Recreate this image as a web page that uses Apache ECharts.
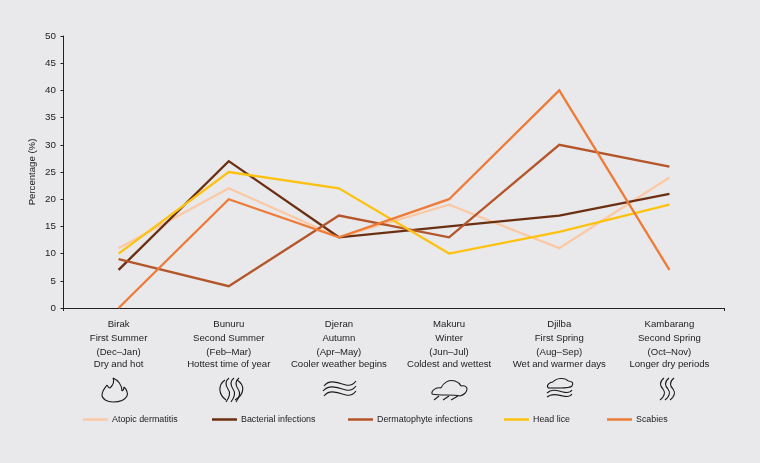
<!DOCTYPE html>
<html><head><meta charset="utf-8">
<style>html,body{margin:0;padding:0;background:#e9e9eb}#c{width:760px;height:463px}</style>
<script src="https://cdn.jsdelivr.net/npm/echarts@6/dist/echarts.min.js"></script>
</head><body><div id="c"></div>
<script>
const seasons = ['Birak','Bunuru','Djeran','Makuru','Djilba','Kambarang'];
const seasonEnglish = ['First Summer','Second Summer','Autumn','Winter','First Spring','Second Spring'];
const months = ['(Dec–Jan)','(Feb–Mar)','(Apr–May)','(Jun–Jul)','(Aug–Sep)','(Oct–Nov)'];
const weather = ['Dry and hot','Hottest time of year','Cooler weather begins','Coldest and wettest','Wet and warmer days','Longer dry periods'];
const atopic = [11,22,13,19,11,24];
const bacterial = [7,27,13,15,17,21];
const dermatophyte = [9,4,17,13,30,26];
const headLice = [10,25,22,10,14,19];
const scabies = [0,20,13,20,40,7];
const seriesNames = ['Atopic dermatitis','Bacterial infections','Dermatophyte infections','Head lice','Scabies'];
const seriesColors = ['#fbc9a5','#6b2f12','#b4552a','#fdc20f','#ee7b38'];
const legendLefts = [83,212,348,504,607];
const seriesValues = [atopic,bacterial,dermatophyte,headLice,scabies];
const categories = seasons.map((s,i)=>[s,seasonEnglish[i],months[i],weather[i]].join('\n'));
const FONT = '"Liberation Sans", Arial, sans-serif';
const TXT = '#1c1c20';

const icons = [
 // flame
 'M113 378C118 380 122 385 122 391C124 390 124 388 124 387C127 390 128 393 127 396C125 400 120 402 113 402C107 402 102 399 102 395C102 391 105 388 107 385C108 387 109 388 110 388C113 385 115 382 113 378Z',
 // heat
 'M225 380C218 385 218 394 226 400M237 380C245 385 245 394 235 400M229 378C224 382 226 386 228 389C231 393 229 398 226 402M234 378C229 382 231 386 233 389C236 393 234 398 231 402M239 378C234 382 236 386 238 389C241 393 239 398 236 402',
 // wind
 'M324 386C330 378 340 384 346 385C350 386 353 385 356 381M323 391C330 383 340 389 346 390C350 391 353 390 356 386M324 396C330 388 340 394 346 395C350 396 353 395 356 391',
 // rain cloud
 'M432 394C431 390 437 387 441 388C443 383 449 379 455 381C458 382 460 384 461 386C465 385 467 387 467 389C467 392 464 395 460 396C452 394 440 396 432 394ZM434 400L439 396M443 400L449 396M451 400L458 396',
 // cloud + wind
 'M548 388C546 385 550 382 553 382C556 378 565 377 568 381C572 381 574 383 572 386C570 388 566 388 560 388C556 388 551 388 548 388ZM547 393C552 388 558 391 563 392C567 393 570 393 572 390M547 397C552 393 558 395 563 396C567 397 570 397 572 394',
 // heat waves
 'M664 378C659 382 660 386 663 389C666 393 664 397 660 400M669 378C664 382 665 386 668 389C671 393 669 397 665 400M674 378C669 382 670 386 673 389C676 393 674 397 670 400'
];
function iconSegments(d){
  const out=[]; const re=/([MCLZ])([^MCLZ]*)/g; let m,cx=0,cy=0,sx=0,sy=0;
  const style={fill:null,stroke:'#1a1a1a',lineWidth:1.1};
  while((m=re.exec(d))){
    const n=m[2].trim().split(/\s+/).filter(Boolean).map(Number);
    if(m[1]==='M'){cx=sx=n[0];cy=sy=n[1];}
    else if(m[1]==='L'){out.push({type:'line',silent:true,shape:{x1:cx,y1:cy,x2:n[0],y2:n[1]},style});cx=n[0];cy=n[1];}
    else if(m[1]==='C'){
      for(let i=0;i<n.length;i+=6){
        out.push({type:'bezierCurve',silent:true,shape:{x1:cx,y1:cy,cpx1:n[i],cpy1:n[i+1],cpx2:n[i+2],cpy2:n[i+3],x2:n[i+4],y2:n[i+5]},style});
        cx=n[i+4];cy=n[i+5];
      }
    } else if(m[1]==='Z'){ if(cx!==sx||cy!==sy)out.push({type:'line',silent:true,shape:{x1:cx,y1:cy,x2:sx,y2:sy},style});cx=sx;cy=sy;}
  }
  return out;
}
const iconGraphics = icons.flatMap(iconSegments);

const chart = echarts.init(document.getElementById('c'),null,{renderer:'canvas'});
chart.setOption({
 backgroundColor:'#e9e9eb',
 animation:false,
 textStyle:{fontFamily:FONT},
 grid:{left:63.5,right:35.5,top:36,bottom:155,containLabel:false},
 legend: seriesNames.map((n,i)=>({
   data:[{name:n,icon:'rect'}],left:legendLefts[i],top:415,itemWidth:25,itemHeight:2.5,itemGap:0,padding:0,
   selectedMode:false,textStyle:{fontFamily:FONT,fontSize:8.9,color:TXT,padding:[0,0,0,-1]}
 })),
 xAxis:[{
   type:'category',data:categories,boundaryGap:true,
   axisLine:{lineStyle:{color:'#222',width:1}},
   axisTick:{alignWithLabel:true,length:3,lineStyle:{color:'#222',width:1}},
   axisLabel:{interval:0,margin:9,color:TXT,fontFamily:FONT,
     formatter:v=>{const p=v.split('\n');return p.slice(0,3).map(s=>'{a|'+s+'}').join('\n')+'\n{b|'+p[3]+'}';},
     rich:{a:{fontSize:9.6,lineHeight:14,color:TXT,fontFamily:FONT},b:{fontSize:9.6,lineHeight:11.5,color:TXT,fontFamily:FONT}}}
 },{
   type:'value',position:'bottom',min:0,max:1,interval:1,
   axisLine:{show:false},splitLine:{show:false},axisLabel:{show:false},
   axisTick:{show:true,length:3,lineStyle:{color:'#222',width:1}}
 }],
 yAxis:{
   type:'value',min:0,max:50,interval:5,name:'Percentage (%)',nameLocation:'middle',nameGap:31,nameMoveOverlap:false,
   nameTextStyle:{fontFamily:FONT,fontSize:9.6,color:TXT,verticalAlign:'middle'},
   axisLine:{show:true,lineStyle:{color:'#222',width:1}},
   axisTick:{show:true,length:3,lineStyle:{color:'#222',width:1}},
   axisLabel:{fontSize:9.8,color:TXT,margin:7.5,fontFamily:FONT},
   splitLine:{show:false}
 },
 series: seriesNames.map((n,i)=>({
   name:n,type:'line',data:seriesValues[i],symbol:'none',smooth:false,clip:false,
   lineStyle:{color:seriesColors[i],width:2.3,join:'miter',miterLimit:4},
   itemStyle:{color:seriesColors[i]},emphasis:{disabled:true}
 })),
 graphic:iconGraphics
});
</script></body></html>
